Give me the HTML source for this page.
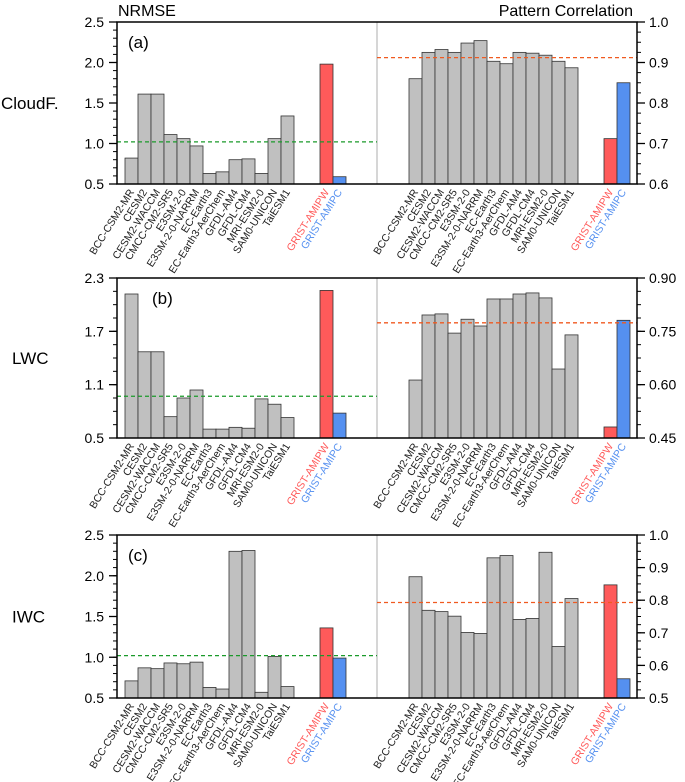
<!DOCTYPE html>
<html><head><meta charset="utf-8">
<style>
html,body{margin:0;padding:0;background:#fff;}
svg{display:block;font-family:"Liberation Sans",Arial,sans-serif;}
</style></head>
<body>
<svg id="chart" width="685" height="782" viewBox="0 0 685 782" xmlns="http://www.w3.org/2000/svg">
<text x="118" y="16" font-size="16">NRMSE</text>
<text x="633" y="16" font-size="16" text-anchor="end">Pattern Correlation</text>
</svg>
<script>
const models = ["BCC-CSM2-MR","CESM2","CESM2-WACCM","CMCC-CM2-SR5","E3SM-2-0","E3SM-2-0-NARRM","EC-Earth3","EC-Earth3-AerChem","GFDL-AM4","GFDL-CM4","MRI-ESM2-0","SAM0-UNICON","TaiESM1"];
const gristNames = ["GRIST-AMIPW","GRIST-AMIPC"];
const rowLabels = ["CloudF.","LWC","IWC"];
const panelLetters = ["(a)","(b)","(c)"];
// NRMSE values
const nrmseA = [0.82,1.61,1.61,1.11,1.06,0.97,0.63,0.65,0.80,0.81,0.63,1.06,1.34];
const nrmseB = [2.12,1.47,1.47,0.74,0.95,1.04,0.60,0.60,0.62,0.61,0.94,0.88,0.73];
const nrmseC = [0.71,0.87,0.86,0.93,0.92,0.94,0.63,0.61,2.30,2.31,0.57,1.01,0.64];
const gristNrmseA = [1.98,0.59];
const gristNrmseB = [2.16,0.78];
const gristNrmseC = [1.36,0.99];
const refNrmse = [1.02,0.97,1.02];
// Pattern correlation values
const pcA = [0.860,0.925,0.932,0.925,0.948,0.954,0.903,0.897,0.925,0.923,0.918,0.903,0.887];
const pcB = [0.613,0.796,0.799,0.745,0.784,0.765,0.841,0.841,0.855,0.858,0.844,0.644,0.740];
const pcC = [0.872,0.769,0.765,0.751,0.701,0.698,0.930,0.937,0.741,0.744,0.947,0.658,0.805];
const gristPcA = [0.712,0.850];
const gristPcB = [0.481,0.781];
const gristPcC = [0.847,0.559];
const refPc = [0.912,0.774,0.793];
// axis ranges and ticks
const leftRanges = [[0.5,2.5],[0.5,2.3],[0.5,2.5]];
const leftTicks = [["0.5","1.0","1.5","2.0","2.5"],["0.5","1.1","1.7","2.3"],["0.5","1.0","1.5","2.0","2.5"]];
const leftMinorStep = [0.1,0.15,0.1];
const rightRanges = [[0.6,1.0],[0.45,0.90],[0.5,1.0]];
const rightTicks = [["0.6","0.7","0.8","0.9","1.0"],["0.45","0.60","0.75","0.90"],["0.5","0.6","0.7","0.8","0.9","1.0"]];
const rightMinorStep = [0.025,0.0375,0.025];

const NS="http://www.w3.org/2000/svg";
const svg=document.getElementById('chart');
function mk(tag,attrs,parent){const e=document.createElementNS(NS,tag);for(const k in attrs)e.setAttribute(k,attrs[k]);(parent||svg).appendChild(e);return e;}

const panels=[
 {top:22,bot:184,nr:nrmseA,gn:gristNrmseA,pc:pcA,gp:gristPcA,lx:128},
 {top:278,bot:438,nr:nrmseB,gn:gristNrmseB,pc:pcB,gp:gristPcB,lx:152},
 {top:535,bot:698,nr:nrmseC,gn:gristNrmseC,pc:pcC,gp:gristPcC,lx:128}
];
const X0=117,XM=377,X1=637,BW=13,LSTART=125,RSTART=409;
const colors={gray:"#c0c0c0",red:"#ff5a5a",blue:"#5590f0"};

panels.forEach((p,pi)=>{
 const g=mk('g',{});
 
 
 const [l0,l1]=leftRanges[pi],[r0,r1]=rightRanges[pi];
 const yL=v=>p.bot-(v-l0)/(l1-l0)*(p.bot-p.top);
 const yR=v=>p.bot-(v-r0)/(r1-r0)*(p.bot-p.top);
 const dv=mk('line',{x1:XM,x2:XM,y1:p.top,y2:p.bot,stroke:"#c8c8c8","stroke-width":1.5},g);
 
 
 function bar(x,v,y,fill,name){
  const yy=y(v);
  const r=mk('rect',{x:x,y:yy,width:BW,height:p.bot-yy,fill:fill,stroke:"#333","stroke-width":0.8},g);
  
  
 }
 function label(x,text,color,name){
  const cx=x+BW/2+3, cy=p.bot+8;
  const t=mk('text',{x:cx,y:cy,"font-size":10.5,"text-anchor":"end",fill:color,transform:`rotate(-58 ${cx} ${cy})`},g);
  t.textContent=text;
  
  
 }
 p.nr.forEach((v,i)=>{bar(LSTART+i*BW,v,yL,colors.gray,'nrmse-bar-'+models[i].toLowerCase());label(LSTART+i*BW,models[i],"#222",'x-label');});
 p.gn.forEach((v,i)=>{bar(LSTART+(15+i)*BW,v,yL,i?colors.blue:colors.red,'nrmse-bar-'+gristNames[i].toLowerCase());label(LSTART+(15+i)*BW,gristNames[i],i?colors.blue:colors.red,'x-label');});
 p.pc.forEach((v,i)=>{bar(RSTART+i*BW,v,yR,colors.gray,'pc-bar-'+models[i].toLowerCase());label(RSTART+i*BW,models[i],"#222",'x-label');});
 p.gp.forEach((v,i)=>{bar(RSTART+(15+i)*BW,v,yR,i?colors.blue:colors.red,'pc-bar-'+gristNames[i].toLowerCase());label(RSTART+(15+i)*BW,gristNames[i],i?colors.blue:colors.red,'x-label');});
 const gl=mk('line',{x1:X0,x2:XM,y1:yL(refNrmse[pi]),y2:yL(refNrmse[pi]),stroke:"#1a9a2a","stroke-width":1.3,"stroke-dasharray":"4,3"},g);
 
 
 const ol=mk('line',{x1:XM,x2:X1,y1:yR(refPc[pi]),y2:yR(refPc[pi]),stroke:"#f05a20","stroke-width":1.3,"stroke-dasharray":"4,3"},g);
 
 
 const fr=mk('rect',{x:X0,y:p.top,width:X1-X0,height:p.bot-p.top,fill:"none",stroke:"#000","stroke-width":1.5},g);
 
 
 for(let v=l0;v<=l1+1e-6;v+=leftMinorStep[pi]){mk('line',{x1:X0-4,x2:X0,y1:yL(v),y2:yL(v),stroke:"#000","stroke-width":1},g);}
 leftTicks[pi].forEach(s=>{const v=parseFloat(s);mk('line',{x1:X0-8,x2:X0,y1:yL(v),y2:yL(v),stroke:"#000","stroke-width":1.3},g);
  const t=mk('text',{x:X0-13,y:yL(v)+5,"font-size":14,"text-anchor":"end"},g);t.textContent=s;
  
  });
 for(let v=r0;v<=r1+1e-6;v+=rightMinorStep[pi]){mk('line',{x1:X1,x2:X1+4,y1:yR(v),y2:yR(v),stroke:"#000","stroke-width":1},g);}
 rightTicks[pi].forEach(s=>{const v=parseFloat(s);mk('line',{x1:X1,x2:X1+8,y1:yR(v),y2:yR(v),stroke:"#000","stroke-width":1.3},g);
  const t=mk('text',{x:X1+12,y:yR(v)+5,"font-size":14},g);t.textContent=s;
  
  });
 const pl=mk('text',{x:p.lx,y:p.top+26,"font-size":17},g);pl.textContent=panelLetters[pi];
 
 
 const rl=mk('text',{x:pi?12:1,y:(p.top+p.bot)/2+6,"font-size":17},g);rl.textContent=rowLabels[pi];
 
 
});
</script>
</body></html>
